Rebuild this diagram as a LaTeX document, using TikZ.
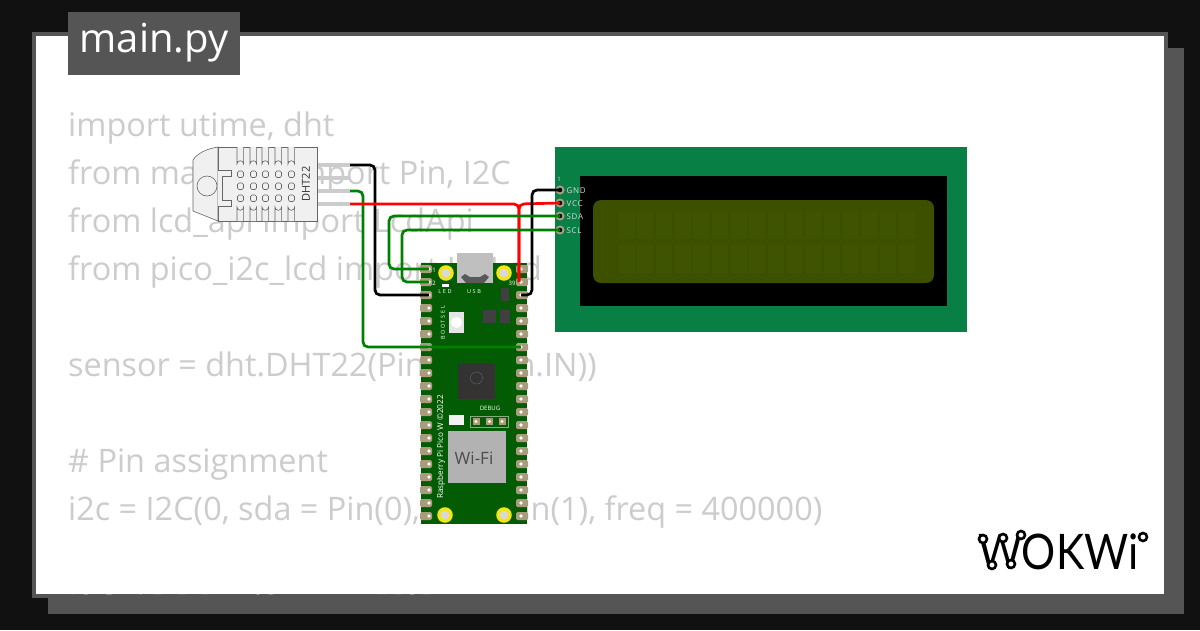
\documentclass[tikz,border=0pt]{standalone}
\usepackage{fontspec}
\setmainfont{Open Sans}
\newfontfamily\logofont{Lato}
\usetikzlibrary{positioning}
\definecolor{bgdark}{HTML}{111111}
\definecolor{sheetgray}{HTML}{555555}
\definecolor{codegray}{HTML}{CCCCCC}
\definecolor{picogreen}{HTML}{035C03}
\definecolor{lcdgreen}{HTML}{087F45}
\definecolor{lcdscreen}{HTML}{3C5000}
\definecolor{lcdcell}{HTML}{3F5403}
\definecolor{padtan}{HTML}{A89C7C}
\definecolor{wiregreen}{HTML}{008000}
\definecolor{yellowring}{HTML}{F2E51E}
\tikzset{
  codeline/.style={anchor=base west, inner sep=0pt, text=codegray, font=\fontsize{32.4}{32.4}\selectfont},
  wire/.style={line width=2.7pt, rounded corners=5pt},
  padleft/.style={fill=padtan, rounded corners=1.5pt, minimum width=12pt, minimum height=8pt, inner sep=0pt},
  pinhole/.style={circle, fill=white, minimum size=3.6pt, inner sep=0pt},
  lcdpin/.style={circle, fill=black, draw=padtan, line width=2pt, minimum size=7pt, inner sep=0pt},
  lcdlabel/.style={anchor=west, inner sep=0pt, yshift=-1pt, text=white!85!black, font=\fontsize{8}{8}\selectfont\addfontfeature{LetterSpace=8}},
  silk/.style={inner sep=0pt, text=white, font=\fontsize{6}{6}\selectfont},
  spaced/.style={font=\fontsize{5.5}{5.5}\selectfont\addfontfeature{LetterSpace=30}},
  chip/.style={fill=black!75, draw=none},
  mounthole/.style={circle, draw=yellowring, line width=3.5pt, fill=white!85!black, minimum size=12pt, inner sep=0pt},
  dhtpin/.style={line width=3.5pt, color=codegray},
  dhtline/.style={draw=black!60, fill=white!94!black, line width=.6pt},
  logoring/.style={circle, draw=black, fill=white, line width=2.6pt, minimum size=8pt, inner sep=0pt}
}
\begin{document}
\begin{tikzpicture}[x=1pt,y=-1pt]
  \useasboundingbox (0,0) rectangle (1200,630);
  % sheet
  \fill[bgdark] (0,0) rectangle (1200,630);
  \fill[sheetgray] (48,48) rectangle (1184,614);
  \fill[sheetgray] (32,32) rectangle (1168,598);
  \fill[white] (36,36) rectangle (1164,594);
  % code behind the parts
  \begin{scope}
    \clip (36,36) rectangle (1164,594);
    \node[codeline] (code1) at (68,136) {import utime, dht};
    \node[codeline] (code2) at (68,184) {from machine import Pin, I2C};
    \node[codeline] (code3) at (68,232) {from lcd\_api import LcdApi};
    \node[codeline] (code4) at (68,280) {from pico\_i2c\_lcd import I2cLcd};
    \node[codeline] (code5) at (68,376) {sensor = dht.DHT22(Pin(15, Pin.IN))};
    \node[codeline] (code6) at (68,472) {\# Pin assignment};
    \node[codeline] (code7) at (68,520) {i2c = I2C(0, sda = Pin(0), scl = Pin(1), freq = 400000)};
    \node[codeline] (code8) at (68,618) {I2C\_ADDR = i2c.scan()[0]};
  \end{scope}
  \fill[sheetgray] (68,12) rectangle (240,75);
  \node[inner sep=0pt, text=white, font=\fontsize{40}{40}\selectfont] (title) at (154,43) {main.py};

  % dht22
  \foreach \y/\n in {165/A,178/B,191/C,204/D}
    \draw[dhtpin] (316,\y) -- (350,\y) coordinate (dht\n);
  \draw[dhtline] (218,147) .. controls (205,149) and (197,154) .. (193,160) -- (193,211) -- (218,221) -- cycle;
  \draw[dhtline] (218,147) rectangle (317,221);
  \draw[dhtline] (207,186) circle (10);
  \draw[dhtline] (218,170) -- (231,170) -- (231,176) -- (222,176) -- (222,200) -- (231,200) -- (231,206) -- (218,206);
  \foreach \x in {237,250,262,275,288} {
    \draw[dhtline] (\x,147) -- (\x,164) arc (180:0:3.3 and -3.3) -- (\x+6.6,147);
    \draw[dhtline] (\x,221) -- (\x,207) arc (180:0:3.3) -- (\x+6.6,221);
    \foreach \y in {171,183,195}
      \draw[dhtline, rounded corners=1.5pt] (\x+.5,\y) rectangle (\x+6.5,\y+6.5);
  }
  \node[rotate=90, inner sep=0pt, text=black!80, font=\fontsize{11}{11}\selectfont] (dhtlabel) at (306,184) {DHT22};

  % lcd
  \fill[lcdgreen] (555,147) rectangle (967,332);
  \fill[black] (580,176) rectangle (947,306);
  \fill[lcdscreen, rounded corners=8pt] (593,200) rectangle (934,283);
  \foreach \i in {0,...,15} \foreach \y in {211,245}
    \fill[lcdcell] (618.5+\i*18.7,\y) rectangle +(16,28);
  \node[silk, text=white!85!black] (lcdone) at (559,179) {1};
  \foreach \y/\n/\t in {190/GND/GND,203/VCC/VCC,216/SDA/SDA,230/SCL/SCL} {
    \node[lcdpin] (\n) at (560,\y) {};
    \node[lcdlabel, right=2pt of \n] (label\n) {\t};
  }

  % pico
  \fill[picogreen] (421,263) rectangle (527,524);
  \foreach \i in {1,...,20} {
    \pgfmathsetmacro{\py}{269+(\i-1)*13}
    \node[padleft] (padL\i) at (426,\py) {};
    \node[padleft] (padR\i) at (522,\py) {};
    \node[pinhole] (L\i) at (429,\py) {};
    \node[pinhole] (R\i) at (521,\py) {};
  }
  \fill[white!75!black] (457,253) rectangle (493,283);
  \fill[black!65] (461,277) -- (465,274) -- (470,277) -- (480,277) -- (485,274) -- (489,277) -- (484,283) -- (466,283) -- cycle;
  \foreach \x/\y/\n in {446/273/holeA,504/273/holeB,445/515/holeC,504/515/holeD}
    \node[mounthole] (\n) at (\x,\y) {};
  \node[silk] (pinone) at (434,270) {1};
  \node[silk] (pintwo) at (434,283) {2};
  \node[silk] (pinlast) at (512,283) {39};
  \node[silk, spaced] (ledlabel) at (445,292) {LED};
  \node[silk, spaced] (usblabel) at (474,292) {USB};
  \fill[white] (442,284) rectangle (449,287);
  \node[silk, spaced, rotate=90] (bootlabel) at (443,323) {BOOTSEL};
  \fill[white!90!black] (449,312) rectangle (464,333);
  \fill[white] (456.5,322.5) circle (5.5);
  \fill[chip] (501,288) rectangle (509,301);
  \fill[chip] (483,310) rectangle (496,323);
  \fill[chip] (500,310) rectangle (510,323);
  \fill[black!80] (458,363) rectangle (495,399);
  \draw[black!60] (476.5,378) circle (6);
  \node[silk] (debuglabel) at (490,408) {DEBUG};
  \draw[white!50!picogreen, line width=.8pt] (470,416) rectangle (508,427);
  \foreach \x in {476,489.5,502} {
    \fill[padtan] (\x-3.5,418) rectangle (\x+3.5,425);
    \fill[white] (\x,421.5) circle (1.6);
  }
  \fill[white!95!black] (449,415) rectangle (464,425);
  \fill[black!30] (448,431) rectangle (506,483);
  \node[inner sep=0pt, text=black!70, font=\fontsize{17}{17}\selectfont] (wifilabel) at (474,458) {Wi-Fi};
  \node[silk, rotate=90, font=\fontsize{8.2}{8.2}\selectfont] (picolabel) at (441,447) {Raspberry Pi Pico W ©2022};

  % wires
  \draw[wire, black] (dhtA) -- (375,165) -- (375,295) -- (L3.center);
  \draw[wire, wiregreen] (dhtC) -- (363,191) -- (363,347) -- (R7.center);
  \draw[wire, red] (dhtD) -- (519,204) -- (R2.west);
  \draw[wire, red] (VCC.center) -- (519,204) -- (R2.west);
  \draw[wire, black] (GND.center) -- (532,190) -- (532,295) -- (R3.center);
  \draw[wire, wiregreen] (SDA.center) -- (389,216) -- (389,269) -- (L1.center);
  \draw[wire, wiregreen] (SCL.center) -- (402,230) -- (402,282) -- (L2.center);

  % logo
  \node[inner sep=0pt, anchor=base west, xscale=.87, transform shape, font=\logofont\fontsize{49}{49}\selectfont] (logo) at (978,569) {WOKWi};
  \foreach \x/\y/\n in {983/539/ringA,1003/538/ringB,1021/535/ringC,992/565/ringD,1011/564/ringE,1143/537/ringF}
    \node[logoring] (\n) at (\x,\y) {};
\end{tikzpicture}
\end{document}
